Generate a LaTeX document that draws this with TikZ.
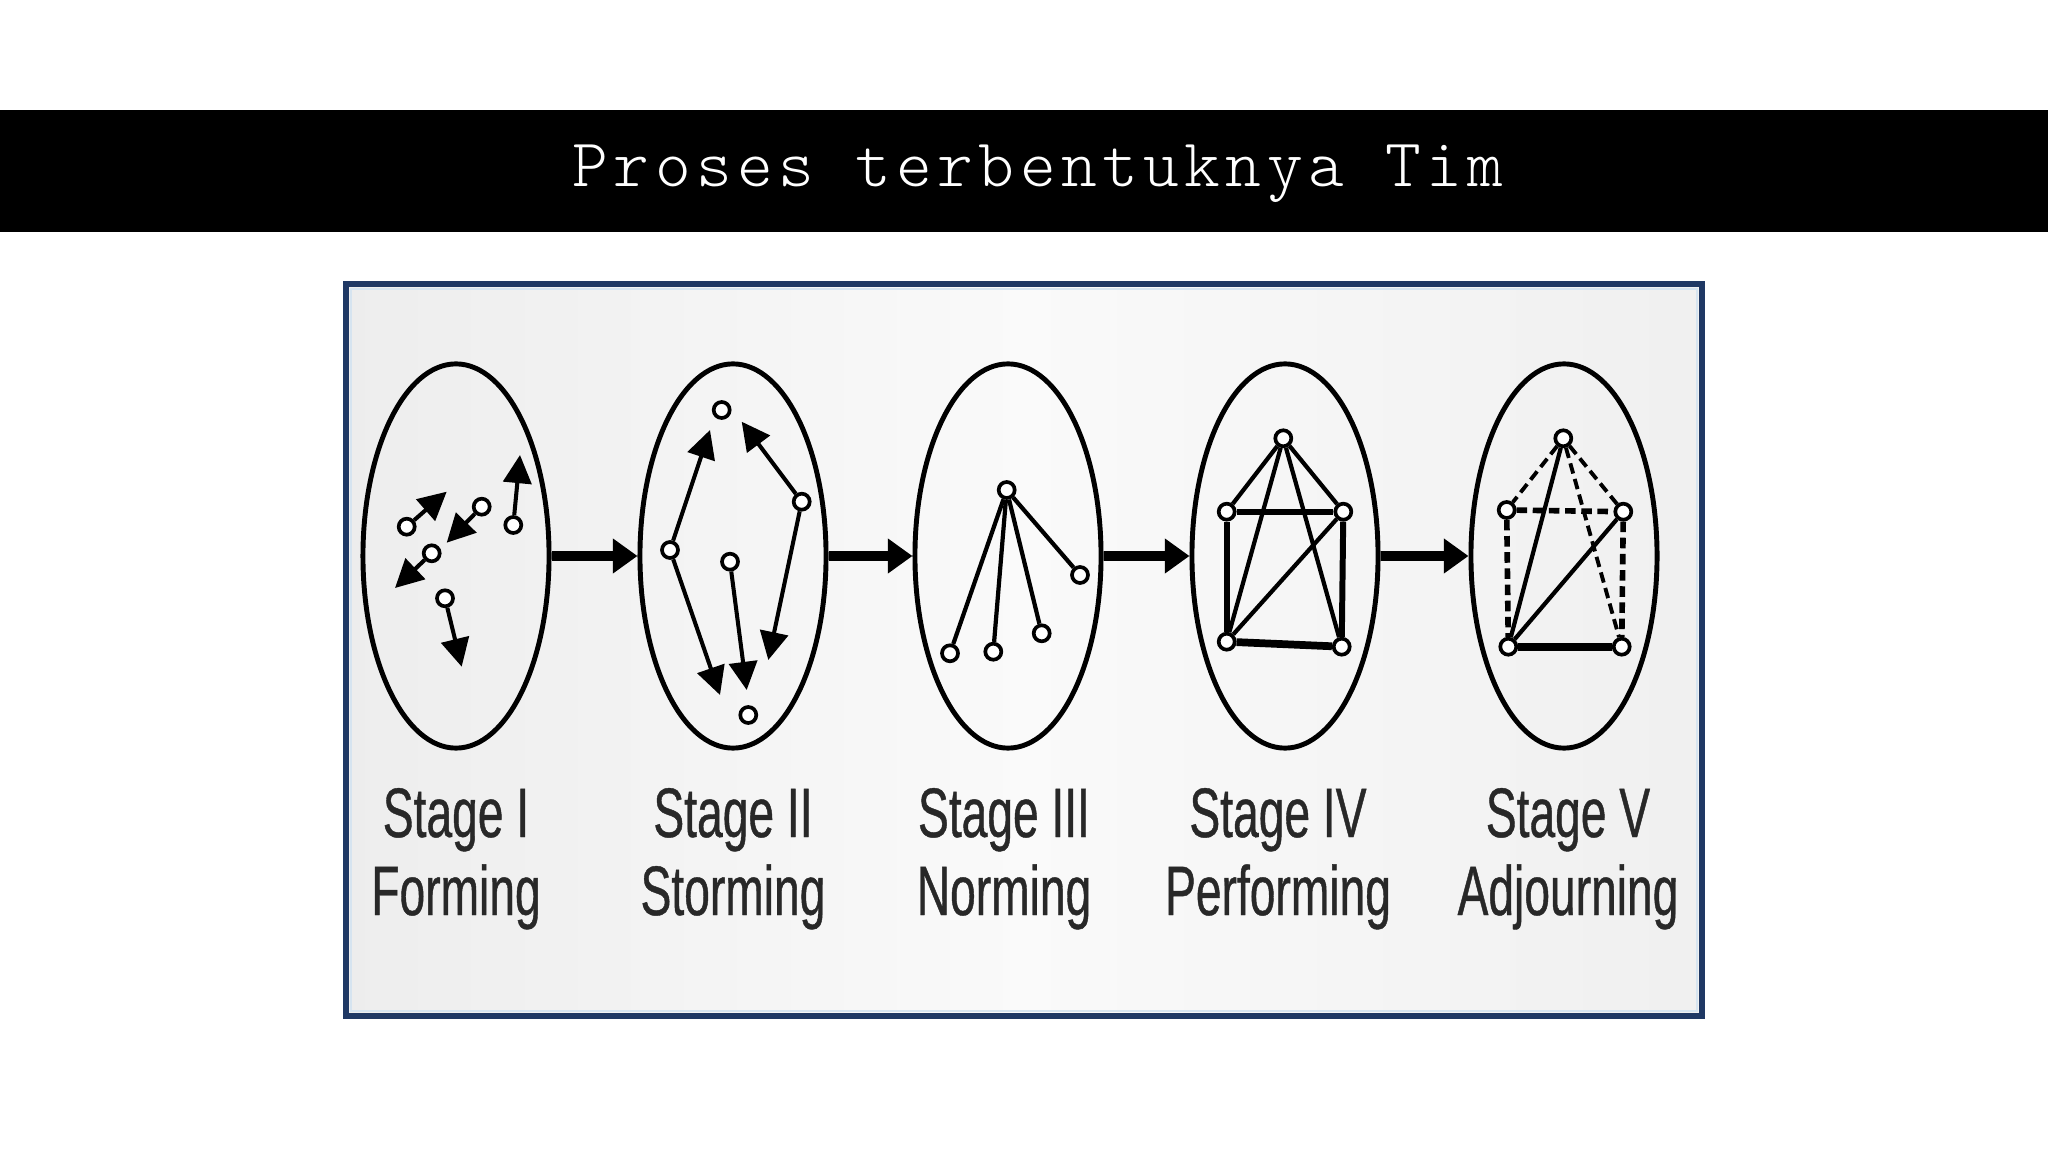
\documentclass[tikz,border=0pt]{standalone}
\usepackage{fontspec}
\usetikzlibrary{arrows.meta,shapes.geometric}
\newfontfamily\lblfont[FakeStretch=0.66,FakeBold=0.6]{Liberation Sans}
\newfontfamily\titlefont[LetterSpace=8]{lmmonolt10-regular.otf}
\definecolor{navy}{RGB}{31,56,100}
\definecolor{lblgray}{RGB}{40,40,40}
\definecolor{innerline}{RGB}{214,228,240}
\begin{document}
\begin{tikzpicture}[x=0.01cm,y=-0.01cm,
  stage/.style={draw=black, line width=1.4pt, ellipse, inner sep=0pt, minimum width=1.86cm, minimum height=3.84cm},
  dot/.style={circle, draw=black, fill=white, line width=1.05pt, inner sep=0pt, minimum size=0.16cm},
  flow/.style={line width=2.6pt, -{Triangle[length=7pt,width=9.5pt]}},
  sarrow/.style={line width=1.15pt, -{Triangle[length=8pt,width=8pt]}},
  edge/.style={line width=1.2pt},
  thickedge/.style={line width=1.7pt},
  heavyedge/.style={line width=2.2pt},
  dashedge/.style={line width=1.6pt, dash pattern=on 3pt off 1.6pt},
  thindash/.style={line width=1.1pt, dash pattern=on 3pt off 1.6pt},
  lbl/.style={font=\lblfont\fontsize{19.9pt}{22pt}\selectfont, text=lblgray, anchor=base, inner sep=0pt},
  titletext/.style={font=\titlefont\fontsize{19.35pt}{22pt}\selectfont, text=white, anchor=base, inner sep=0pt}]
\useasboundingbox (0,0) rectangle (2048,1152);
\fill[white] (0,0) rectangle (2048,1152);
% title bar
\fill[black] (0,110) rectangle (2048,232);
\node[titletext] (title) at (1038,187) {Proses terbentuknya Tim};
% framed panel
\shade[left color=black!7, right color=black!6, middle color=black!2] (346,284) rectangle (1702,1016);
\draw[innerline, line width=0.6pt] (351,289) rectangle (1697,1011);
\draw[navy, line width=1.7pt] (346,284) rectangle (1702,1016);
% stage ellipses
\node[stage] (e1) at (456,556) {};
\node[stage] (e2) at (733,556) {};
\node[stage] (e3) at (1008,556) {};
\node[stage] (e4) at (1285,556) {};
\node[stage] (e5) at (1564,556) {};
\draw[flow] (e1) -- (e2);
\draw[flow] (e2) -- (e3);
\draw[flow] (e3) -- (e4);
\draw[flow] (e4) -- (e5);
% Stage I
\node[dot] (a1) at (406.7,526.7) {}; \coordinate (ta1) at (446.7,491.7);
\node[dot] (a2) at (481.7,506.7) {}; \coordinate (ta2) at (446.7,542.7);
\node[dot] (a3) at (431.7,553.3) {}; \coordinate (ta3) at (395,588);
\node[dot] (a4) at (513.3,525) {};   \coordinate (ta4) at (520,455);
\node[dot] (a5) at (445,598.3) {};   \coordinate (ta5) at (461.7,666.7);
\draw[sarrow] (a1) -- (ta1);
\draw[sarrow] (a2) -- (ta2);
\draw[sarrow] (a3) -- (ta3);
\draw[sarrow] (a4) -- (ta4);
\draw[sarrow] (a5) -- (ta5);
% Stage II
\node[dot] (b1) at (721.7,410) {};
\node[dot] (b2) at (801.7,501.7) {};
\node[dot] (b3) at (670,550) {};
\node[dot] (b4) at (730,561.7) {};
\node[dot] (b5) at (748.3,715) {};
\coordinate (tb1) at (710,430);
\coordinate (tb2) at (741.7,421.7);
\coordinate (tb3) at (768.3,660);
\coordinate (tb4) at (720,695);
\coordinate (tb5) at (746.7,690);
\draw[sarrow] (b3) -- (tb1);
\draw[sarrow] (b2) -- (tb2);
\draw[sarrow] (b2) -- (tb3);
\draw[sarrow] (b3) -- (tb4);
\draw[sarrow] (b4) -- (tb5);
% Stage III
\node[dot] (c1) at (1006.7,490) {};
\node[dot] (c2) at (1080,575) {};
\node[dot] (c3) at (1041.7,633.3) {};
\node[dot] (c4) at (993.3,651.7) {};
\node[dot] (c5) at (950,653.3) {};
\draw[edge] (c1) -- (c2);
\draw[edge] (c1) -- (c3);
\draw[edge] (c1) -- (c4);
\draw[edge] (c1) -- (c5);
% Stage IV
\node[dot] (d1) at (1283.3,438.3) {};
\node[dot] (d2) at (1226.7,511.7) {};
\node[dot] (d3) at (1343.3,511.7) {};
\node[dot] (d4) at (1226.7,641.7) {};
\node[dot] (d5) at (1341.7,646.7) {};
\draw[edge] (d1) -- (d2);
\draw[edge] (d1) -- (d3);
\draw[thickedge] (d2) -- (d3);
\draw[thickedge] (d2) -- (d4);
\draw[thickedge] (d3) -- (d5);
\draw[heavyedge] (d4) -- (d5);
\draw[edge] (d1) -- (d4);
\draw[edge] (d1) -- (d5);
\draw[edge] (d3) -- (d4);
% Stage V
\node[dot] (f1) at (1563.3,438.3) {};
\node[dot] (f2) at (1506.7,510) {};
\node[dot] (f3) at (1623.3,511.7) {};
\node[dot] (f4) at (1508.3,646.7) {};
\node[dot] (f5) at (1621.7,646.7) {};
\draw[thindash] (f1) -- (f2);
\draw[thindash] (f1) -- (f3);
\draw[dashedge] (f2) -- (f3);
\draw[dashedge] (f2) -- (f4);
\draw[dashedge] (f3) -- (f5);
\draw[thindash] (f1) -- (f5);
\draw[heavyedge] (f4) -- (f5);
\draw[edge] (f1) -- (f4);
\draw[edge] (f3) -- (f4);
% labels
\node[lbl] (l1a) at (456,837) {Stage I};
\node[lbl] (l1b) at (456,915) {Forming};
\node[lbl] (l2a) at (733,837) {Stage II};
\node[lbl] (l2b) at (733,915) {Storming};
\node[lbl] (l3a) at (1004,837) {Stage III};
\node[lbl] (l3b) at (1004,915) {Norming};
\node[lbl] (l4a) at (1278,837) {Stage IV};
\node[lbl] (l4b) at (1278,915) {Performing};
\node[lbl] (l5a) at (1568,837) {Stage V};
\node[lbl] (l5b) at (1568,915) {Adjourning};
\end{tikzpicture}
\end{document}
